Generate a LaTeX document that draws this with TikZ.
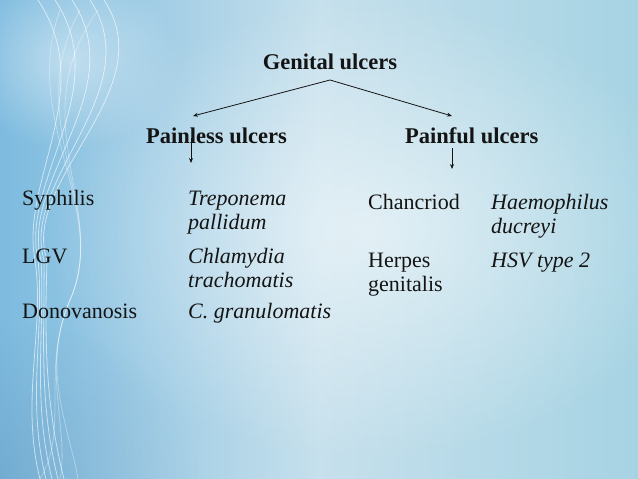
\documentclass[tikz,border=0pt]{standalone}
\usepackage{fontspec}
\setmainfont{Liberation Serif}
\usepackage{xcolor}
\usetikzlibrary{arrows.meta,positioning,fadings}
\definecolor{ink}{HTML}{141414}
\definecolor{skyleft}{HTML}{7DBBDF}
\definecolor{skymid}{HTML}{C6E0EC}
\definecolor{skyright}{HTML}{A6D3E3}
\tikzfading[name=glow,inner color=transparent!0,outer color=transparent!100]
\tikzset{
  >={Stealth[length=5pt,width=4pt]},
  head/.style={font=\fontsize{22.5}{26}\selectfont\bfseries,text=ink,inner sep=0pt,anchor=base west},
  cell/.style={font=\fontsize{22}{24.5}\selectfont,text=ink,inner sep=0pt,anchor=base west,align=left},
  germ/.style={cell,font=\fontsize{22}{24.5}\selectfont\itshape},
  flow/.style={->,line width=.8pt,color=ink},
  swirl/.style={white,line width=.8pt,opacity=.6},
}

\begin{document}
\begin{tikzpicture}[x=1pt,y=-1pt]
  \useasboundingbox (0,0) rectangle (638,479);
  % background
  \shade[left color=skyleft,right color=skyright,middle color=skymid] (0,0) rectangle (638,479);
  \fill[white,opacity=.55,path fading=glow] (370,230) ellipse (330 and 230);
  \fill[white,opacity=.45,path fading=glow] (70,60) ellipse (110 and 90);
  \fill[skyleft!80!blue!60!black,opacity=.15,path fading=glow] (0,479) ellipse (200 and 160);
  \foreach \a/\b in {38/0,55/6,72/12,90/18,104/24} {
    \draw[swirl] (\a,0) .. controls (\a+60,90) and (20,180) .. (35+\b/2,260)
                 .. controls (45,330) and (\b+20,400) .. (40+\b,479);
  }
  \foreach \a in {60,80,98} {
    \draw[swirl,opacity=.35] (\a,10) .. controls (20,120) and (110,210) .. (70,300)
                 .. controls (40,370) and (70,430) .. (\a-20,479);
  }

  % headings
  \node[head,anchor=base] (title) at (330,69) {Genital ulcers};
  \node[head] (painless) at (146,143) {Painless ulcers};
  \node[head] (painful) at (405,143) {Painful ulcers};
  \coordinate (split) at (330,80);
  \coordinate (lefttip) at (193,116);
  \coordinate (righttip) at (452,116);
  \coordinate (leftdown) at (191,138);
  \coordinate (rightdown) at (452,148);
  \draw[flow] (split) -- (lefttip);
  \draw[flow] (split) -- (righttip);
  \draw[flow] (leftdown) -- ++(0,25);
  \draw[flow] (rightdown) -- ++(0,21);

  % painless column (two-line cells sit on their last baseline)
  \node[cell] (syph) at (22,205) {Syphilis};
  \node[germ] (trep) at (188,229.5) {Treponema\\pallidum};
  \node[cell] (lgv) at (22,263) {LGV};
  \node[germ] (chlam) at (188,287.5) {Chlamydia\\trachomatis};
  \node[cell] (donov) at (22,318) {Donovanosis};
  \node[germ] (cgran) at (188,318) {C. granulomatis};

  % painful column
  \node[cell] (chanc) at (368,209) {Chancriod};
  \node[germ] (haem) at (491,233.5) {Haemophilus\\ducreyi};
  \node[cell] (herp) at (368,291.5) {Herpes\\genitalis};
  \node[germ] (hsv) at (491,267) {HSV type 2};
\end{tikzpicture}
\end{document}
